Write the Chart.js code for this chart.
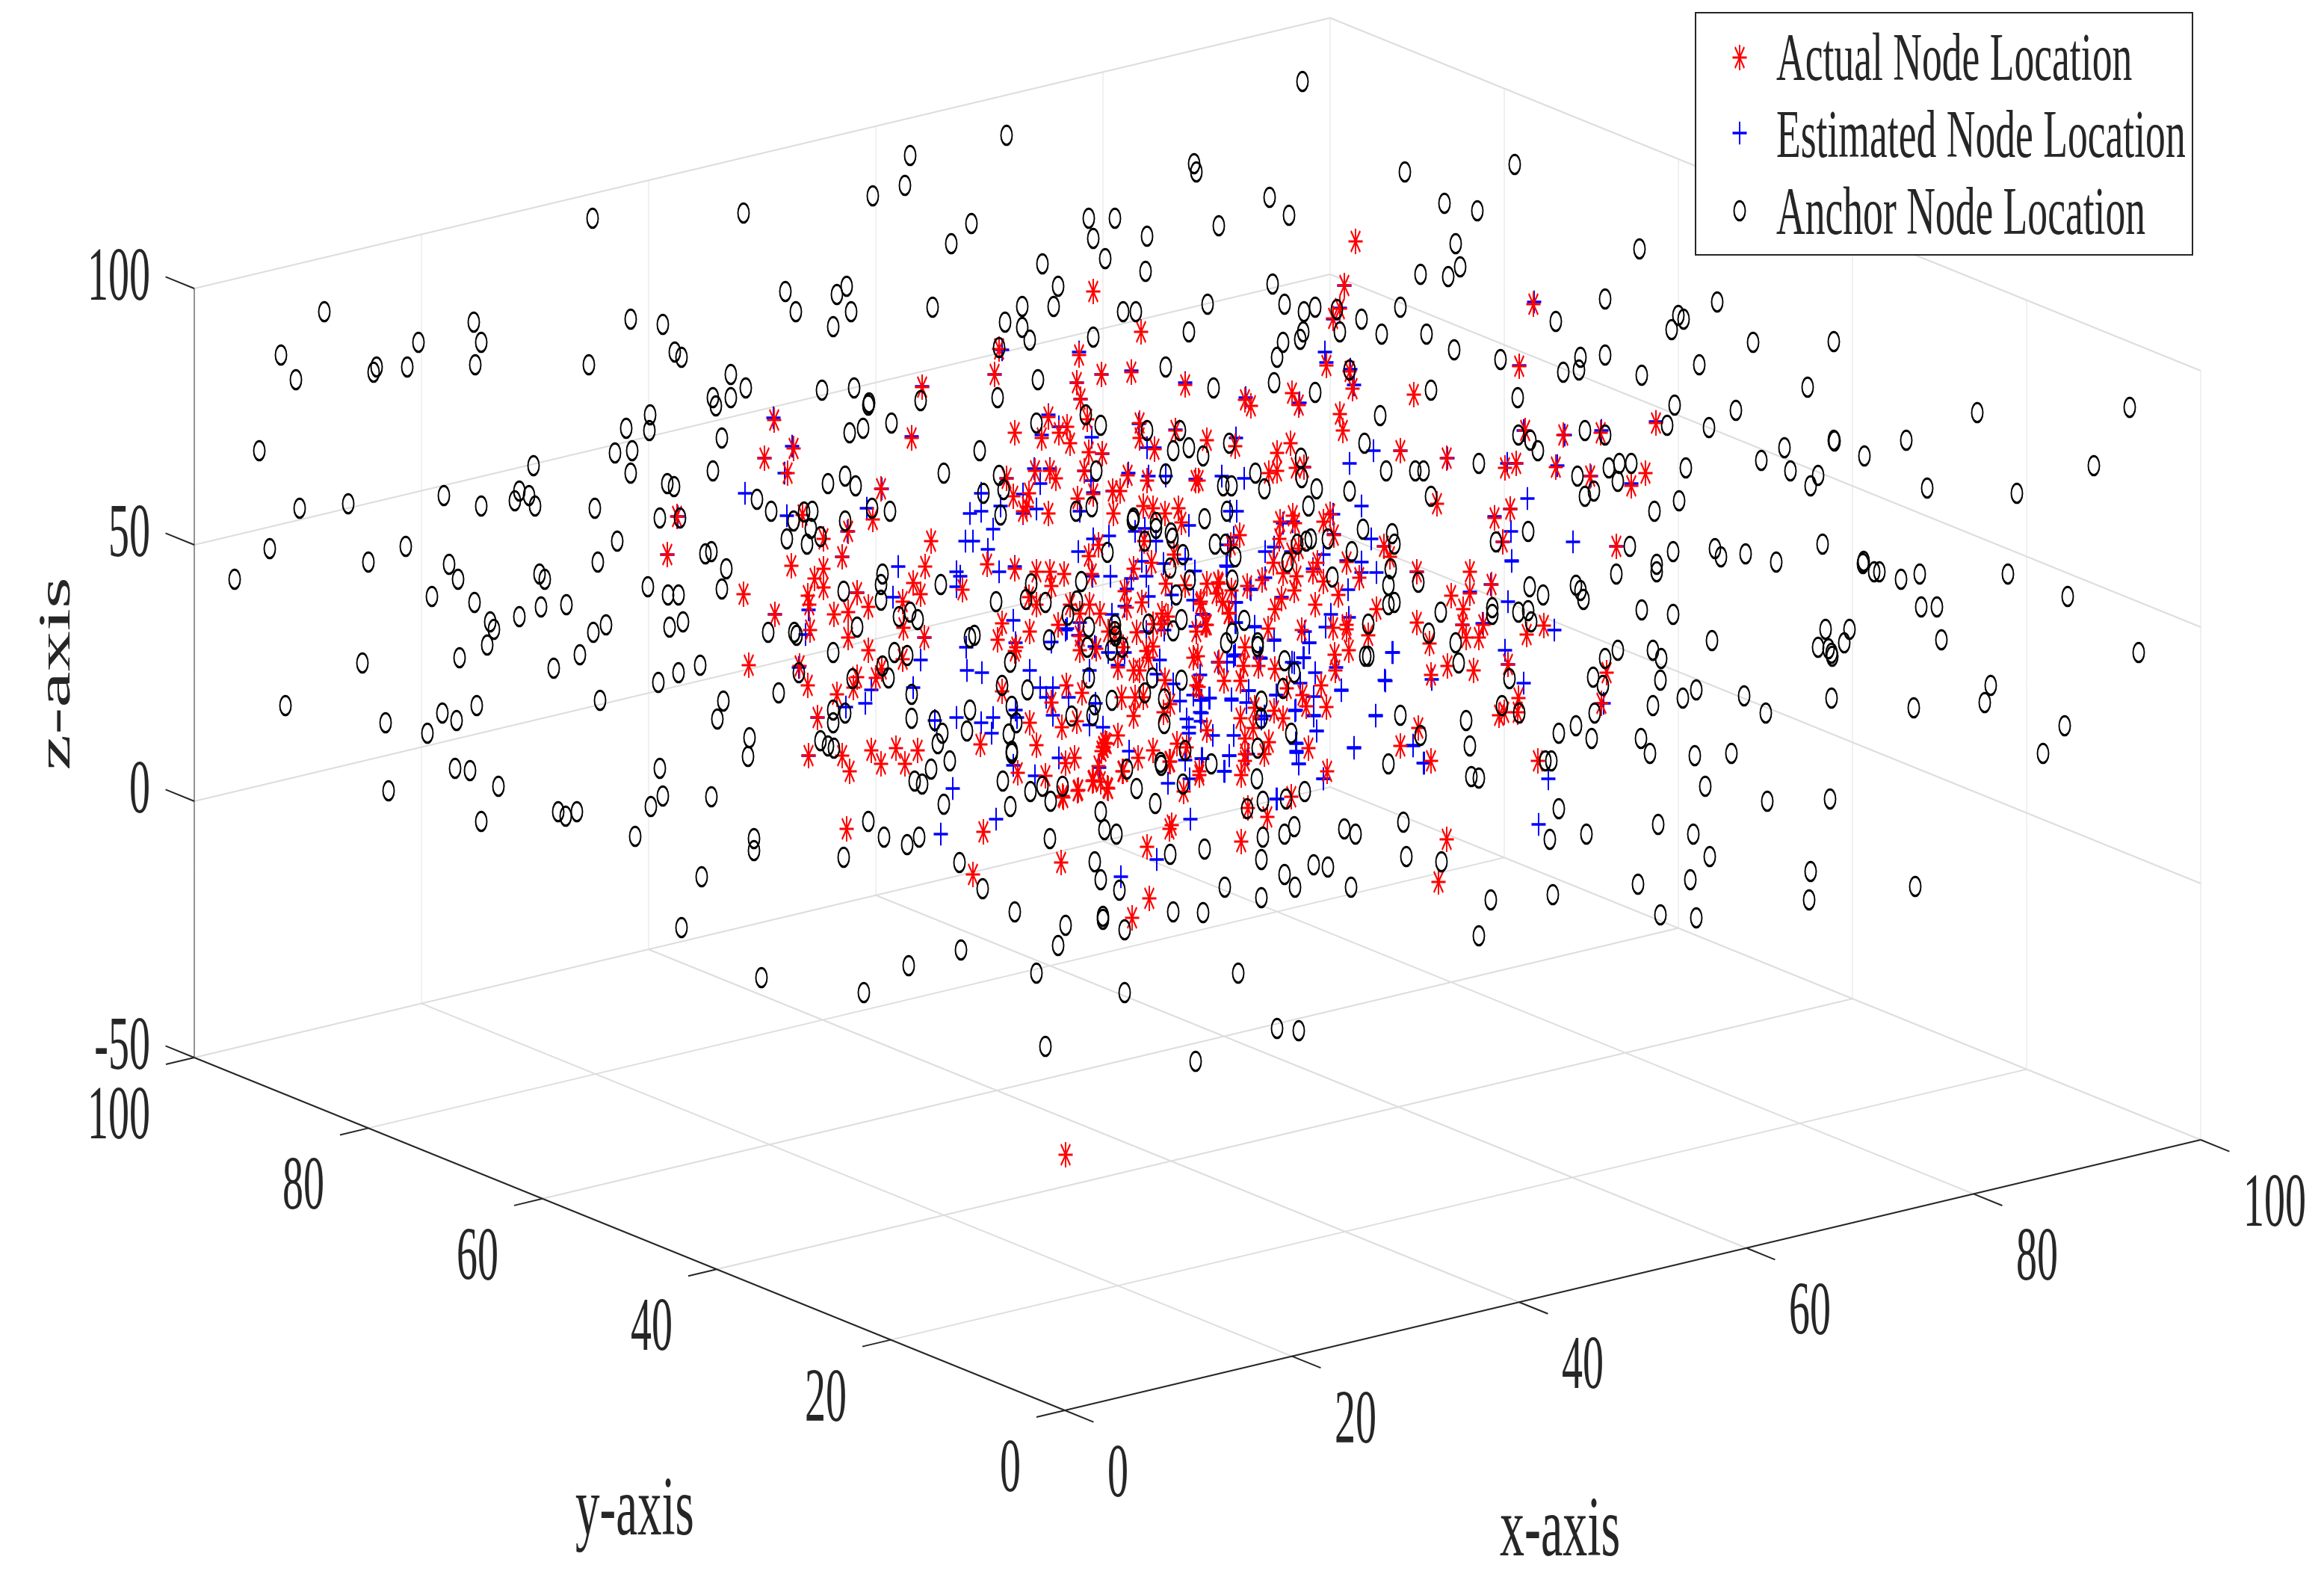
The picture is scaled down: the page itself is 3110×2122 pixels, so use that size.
<!DOCTYPE html>
<html>
<head>
<meta charset="utf-8">
<title>Node localisation scatter</title>
<style>html,body{margin:0;padding:0;background:#fff}canvas{display:block}</style>
<script src="https://cdn.jsdelivr.net/npm/chart.js@4/dist/chart.umd.min.js"></script>
</head>
<body>
<canvas id="c" width="3110" height="2122"></canvas>
<script>
const xTicks=[0,20,40,60,80,100];
const yTicks=[0,20,40,60,80,100];
const zTicks=[-50,0,50,100];
const seriesNames=["Actual Node Location","Estimated Node Location","Anchor Node Location"];
const axisNames={x:"x-axis",y:"y-axis",z:"z-axis"};

const anchorNodes=[
[434,417],[376,475],[396,508],[500,498],[504,491],[560,458],[545,491],[634,431],[644,458],[636,488],[788,488],[347,603],[714,623],[401,680],[466,674],[594,663],[644,677],[689,670],[695,657],[708,663],[716,677],[796,680],[361,734],[493,752],[543,731],[601,755],[613,775],[578,798],[635,806],[722,768],[729,775],[724,812],[758,809],[695,825],[656,832],[661,842],[652,863],[615,880],[485,887],[776,876],[741,894],[794,846],[800,752],[314,775],
[881,913],[382,944],[516,967],[592,954],[611,964],[638,944],[572,981],[803,937],[609,1028],[629,1031],[667,1052],[520,1058],[883,1028],[887,1065],[871,1079],[747,1086],[757,1092],[772,1086],[644,1099],[850,1119],
[1347,181],[1218,208],[1211,248],[1168,262],[995,285],[1300,299],[1273,326],[1457,292],[1492,292],[1463,319],[1479,346],[1535,316],[1533,363],[1395,353],[1416,383],[1598,219],[1601,230],[1410,410],[1368,410],[1345,431],[1368,438],[1378,455],[1248,411],[1503,417],[1520,417],[1591,444],[1463,451],[1051,390],[1065,417],[1120,394],[1133,383],[1139,417],[1115,437],[844,427],[887,434],[903,471],[912,478],[793,292],[978,501],[998,519],[954,532],[958,543],[978,532],[870,555],[869,576],[838,573],[823,606],[846,603],[844,633],[966,586],[954,630],[893,647],[902,651],[1100,522],[1143,519],[1163,539],[1162,542],[1137,579],[1155,573],[1193,566],[1232,536],[1335,532],[1389,508],[1337,465],[1560,491],[1311,603],[1387,566],[1453,555],[1473,569],[1535,576],[1579,576],[1570,603],[1591,599],[1263,633],[1337,636],[1343,655],[1316,660],[1467,630],[1560,634],[1108,647],[1131,637],[1145,650],[1013,668],[1032,684],[1087,684],[1076,685],[1167,680],[1191,684],[1131,697],[1339,689],[1440,684],[1461,678],[1517,693],[1547,699],[883,693],[910,693],
[826,724],[1053,721],[1080,728],[1062,697],[1085,707],[1098,718],[944,741],[952,738],[972,761],[966,788],[867,785],[894,796],[908,796],[896,839],[914,832],[811,836],[1028,846],[1063,846],[1066,850],[1115,873],[1129,791],[1181,768],[1179,782],[1179,803],[1147,839],[1203,825],[1218,819],[1228,829],[1259,782],[1333,805],[937,890],[908,900],[968,938],[1042,927],[960,962],[1069,900],[1197,873],[1214,877],[1181,891],[1189,907],[1141,908],[1298,853],[1304,850],[1003,987],[1001,1012],[952,1066],[1009,1122],[1009,1138],[939,1173],[1115,950],[1115,967],[1131,954],[1098,991],[1108,998],[1116,1001],[1220,961],[1220,929],[1251,964],[1261,981],[1255,995],[1298,950],[1294,978],[1271,1018],[1246,1029],[1224,1045],[1234,1049],[1263,1076],[1162,1099],[1183,1120],[1230,1120],[1214,1130],[1129,1147],[1284,1154],[1315,1189],
[1631,302],[1948,326],[1954,357],[1938,370],[1901,367],[2194,333],[1703,380],[1616,407],[1719,407],[1745,417],[1760,411],[1789,414],[1822,427],[1874,411],[1849,447],[1793,444],[1744,444],[1740,454],[1717,458],[1709,478],[1909,447],[1946,468],[2008,481],[2082,430],[2148,400],[2298,404],[2246,422],[2253,427],[2237,441],[2346,458],[2115,478],[2113,495],[2092,498],[2148,475],[2197,502],[2274,488],[1705,512],[1624,519],[1760,525],[1806,495],[1915,522],[1847,556],[2031,532],[2241,542],[2323,549],[2231,569],[2287,572],[2121,576],[2148,582],[2032,582],[2048,589],[2058,603],[1826,593],[1645,593],[1610,610],[1741,613],[1742,639],[1680,633],[1855,630],[1894,630],[1905,630],[1979,620],[2111,637],[2153,626],[2167,620],[2183,620],[2165,644],[2256,626],[2357,616],[2388,599],[2396,630],[1637,650],[1648,650],[1692,654],[1762,654],[1806,657],[2121,664],[2133,657],[1915,664],[2247,670],[2214,684],[1751,677],[1642,684],[1612,694],[1824,708],[1863,714],[2045,711],[1866,728],[1626,728],[1640,728],[1653,745],[1754,721],[1777,721],[1736,728],[1748,724],[1809,738],[2002,725],[2181,731],[2239,738],[2295,734],[2303,745],[2336,741],[2377,752],[2217,755],[2217,765],[2163,768],[1861,761],[1783,772],[1858,783],[1898,779],[1723,752],[1649,776],[2047,785],[2065,796],[2109,783],[2115,790],[2119,802],[1858,809],[1866,806],[1928,819],[1997,813],[1997,822],[2032,819],[2045,817],[2049,832],[2197,816],[2239,822],[1665,830],[1831,835],[1649,847],[1912,847],[1641,860],[1683,860],[1683,865],[1948,860],[2291,857],[2165,870],[2148,881],[2212,870],[2223,881],[1827,878],[1831,878],[1719,884],[1952,887],[1732,900],
[2222,910],[2132,906],[2145,917],[2020,908],[1717,921],[1688,938],[1688,961],[1728,981],[1874,957],[1962,964],[2010,944],[2033,954],[2212,944],[2252,934],[2270,923],[2334,931],[2363,954],[2134,954],[2086,981],[2109,971],[2130,988],[2196,988],[2208,1008],[2268,1011],[2317,1008],[1901,984],[1967,998],[1683,1001],[1621,1022],[1858,1022],[2068,1018],[2076,1018],[1969,1039],[1979,1041],[2282,1052],[1682,1042],[1746,1059],[1690,1072],[1721,1069],[1669,1082],[2086,1082],[2365,1072],[1878,1100],[2219,1103],[2123,1116],[2266,1116],[1799,1109],[1814,1116],[1732,1106],[1719,1116],[1690,1120],[1612,1136],[2074,1123],[1882,1146],[1929,1153],[2288,1146],[1688,1150],[1758,1157],[1777,1160],[1719,1170],[1733,1187],[1808,1187],[1639,1187],[1688,1201],[1995,1204],[2078,1197],[2192,1183],[2262,1177],[1610,1221],[2222,1224],[2270,1228],[1979,1252],[1657,1302],[1709,1376],[1738,1379],
[1342,1045],[1379,1059],[1395,1052],[1422,1052],[1352,1079],[1406,1072],[1473,1086],[1478,1110],[1494,1116],[1405,1122],[1521,1055],[1546,1075],[1583,1049],[1508,1029],[1354,1008],[1566,1143],[1465,1153],[1473,1177],[1498,1191],[1358,1220],[1426,1238],[1476,1226],[1476,1230],[1505,1244],[1570,1220],[1416,1265],[1286,1271],[1216,1292],[1019,1308],[1156,1328],[1387,1302],[1505,1328],[1399,1400],[1600,1420],[912,1241],
[1516,696],[1547,707],[1567,713],[1569,720],[1532,724],[1583,742],[1482,739],[1566,760],[1592,776],[1380,781],[1447,778],[1373,802],[1399,806],[1441,804],[1429,823],[1574,796],[1581,829],[1570,844],[1537,835],[1457,839],[1492,836],[1404,856],[1455,866],[1492,845],[1493,851],[1487,870],[1502,866],[1352,886],[1341,917],[1375,923],[1457,907],[1354,945],[1360,967],[1350,982],[1354,1005],[1542,907],[1581,910],[1532,927],[1488,937],[1558,935],[1465,943],[1434,958],[1462,957],[1558,968],[1553,1020],[1554,1024],[1586,1004],
[1743,109],[2027,220],[1880,230],[1933,272],[1977,282],[1699,264],[1725,288],
[2454,457],[2419,518],[2646,552],[2850,545],[2551,589],[2454,589],[2455,590],[2495,610],[2433,636],[2423,650],[2579,653],[2699,660],[2802,623],[2439,728],[2494,751],[2493,754],[2508,765],[2515,765],[2544,775],[2569,768],[2687,768],[2767,798],[2571,812],[2592,812],[2598,856],[2443,842],[2475,842],[2468,860],[2433,866],[2447,868],[2451,874],[2452,878],[2862,873],[2664,917],[2656,940],[2451,934],[2561,947],[2763,971],[2734,1008],[2449,1069],[2423,1166],[2421,1204],[2563,1186]
];

const actualNodes=[
[1463,390],[1527,444],[1444,475],[1337,467],[1331,501],[1441,512],[1474,501],[1514,498],[1586,515],[1234,518],[1036,562],[1062,600],[1023,613],[1054,633],[1220,586],[1179,654],[1446,534],[1403,558],[1358,579],[1394,586],[1417,579],[1428,571],[1432,593],[1457,605],[1475,607],[1455,561],[1525,566],[1525,586],[1545,601],[1573,576],[1385,630],[1405,630],[1413,640],[1451,630],[1509,636],[1535,643],[1600,643],[1356,664],[1377,660],[1374,678],[1369,684],[1403,687],[1442,667],[1463,661],[1489,657],[1499,657],[1530,677],[1543,680],[1559,687],[1577,680],[1490,687],[1347,640],[906,691],[1074,689],[1168,695],
[1102,721],[1135,711],[1246,724],[1238,758],[893,742],[1127,745],[1059,757],[1102,761],[1090,774],[1102,786],[995,795],[1081,797],[1083,809],[1147,793],[1162,812],[1116,822],[1135,819],[1222,780],[1232,795],[1208,805],[1288,789],[1321,755],[1358,761],[1387,765],[1405,765],[1424,768],[1407,784],[1377,799],[1387,809],[1037,822],[1084,843],[1209,840],[1237,853],[1135,853],[1162,870],[1002,890],[1070,891],[1081,917],[1208,882],[1180,895],[1172,907],[1147,906],[1142,920],[1120,929],[1341,834],[1335,856],[1378,845],[1360,866],[1341,925],[1378,967],[1094,960],[1082,1011],[1127,1011],[1137,1032],[1166,1004],[1179,1022],[1199,1001],[1211,1022],[1228,1004],[1312,996],[1387,997],[1362,1034],[1399,1038],[1426,1021],[1438,1014],[1422,1065],[1442,1058],[1483,1055],[1463,1044],[1473,1046],[1477,1000],[1479,994],[1470,1025],[1503,1032],[1523,1014],[1565,1019],[1133,1109],[1316,1113],[1302,1170],[1420,1154],[1535,1133],[1565,1109],[1568,1104],[1538,1202],[1515,1228],[1426,1545],
[1581,699],[1470,729],[1457,744],[1531,724],[1541,753],[1571,742],[1461,768],[1517,761],[1560,781],[1586,783],[1432,809],[1458,809],[1472,821],[1505,791],[1508,813],[1528,806],[1555,821],[1554,835],[1563,825],[1543,835],[1606,808],[1615,781],[1630,779],[1644,821],[1615,836],[1601,845],[1416,836],[1445,821],[1445,851],[1483,845],[1521,846],[1358,871],[1445,870],[1467,868],[1492,848],[1503,866],[1534,871],[1543,865],[1537,880],[1597,880],[1496,893],[1517,897],[1525,897],[1559,910],[1601,917],[1427,917],[1448,927],[1407,940],[1501,933],[1519,933],[1530,933],[1517,958],[1566,942],[1557,953],[1421,973],[1441,965],[1476,999],[1481,995],[1474,1005],[1496,984],[1543,1004],[1575,995],[1588,1000],[1566,1019],[1502,1032],[1443,1057],[1462,1045],[1482,1054],[1423,1067],[1605,1032],[1584,1059],
[1814,323],[1799,382],[1793,413],[1784,426],[2052,407],[1775,489],[2033,490],[1806,497],[1810,520],[1666,535],[1674,543],[1729,526],[1738,542],[1892,528],[1793,554],[1797,576],[2216,566],[2041,576],[2092,582],[2142,579],[1615,589],[1653,597],[1727,593],[1874,603],[1709,606],[1936,613],[2014,626],[2029,620],[2082,625],[2128,637],[2183,650],[2202,633],[1604,643],[1698,633],[1709,630],[1734,626],[1745,625],[1923,674],[2000,693],[2021,681],[1713,698],[1730,690],[1733,700],[1771,698],[1780,688],[1659,716],[1785,716],[1712,721],[2011,725],[2163,731],[1852,731],[1860,745],[1802,752],[1896,765],[1967,765],[1647,729],[1738,734],[1728,740],[1704,753],[1717,767],[1735,771],[1757,765],[1763,753],[1771,778],[1689,776],[1669,784],[1819,773],[1631,781],[1628,794],[1648,790],[1996,782],[1732,790],[1715,801],[1791,796],[1942,797],[1967,794],[1842,815],[1760,809],[1706,815],[1607,805],[1636,805],[1645,820],[1958,815],[1985,836],[1613,836],[1697,841],[2066,837],[1896,833],[1784,840],[1802,842],[1802,836],[1742,843],[1831,850],[1957,836],[1962,853],[1979,853],[2043,849],[1913,861],[1805,870],[1666,866],[1603,878],[1786,876],[1631,886],[1664,891],[1684,891],[2150,900],[1937,891],[2018,889],[1706,895],[1972,897],[1915,903],[1787,897],
[2143,941],[2032,934],[2006,957],[2031,953],[2013,953],[1898,974],[1874,998],[1915,1018],[2058,1018],[1751,1001],[1776,1032],[1638,911],[1660,911],[1743,930],[1722,921],[1768,917],[1748,945],[1775,946],[1717,961],[1705,951],[1679,947],[1660,961],[1677,974],[1666,988],[1698,993],[1692,1009],[1666,1009],[1666,1018],[1661,1037],[1615,977],[1605,1037],[1604,919],[1670,1081],[1728,1066],[1696,1093],[1661,1126],[1936,1123],[1925,1180]
];

const estimatedNodes=[
[1341,468],[1331,501],[1444,471],[1441,512],[1474,501],[1514,496],[1586,512],[1234,517],[1035,559],[1060,597],[1023,613],[1050,633],[1220,584],[1180,654],[1446,534],[1403,555],[1394,582],[1417,571],[1461,585],[1524,567],[1573,575],[1535,599],[1545,599],[1475,607],[1384,627],[1405,627],[1451,630],[1460,643],[1510,633],[1537,637],[1560,637],[1600,641],[1347,640],[1392,647],[1313,660],[1369,661],[1339,677],[1387,681],[1369,687],[1298,687],[1313,684],[1445,684],[997,660],[1053,690],[1160,680],[907,691],[1489,657],[1463,659],
[1134,711],[1127,745],[893,742],[1292,724],[1302,724],[1329,708],[1322,735],[1202,758],[1280,765],[1285,771],[1280,785],[1195,799],[1147,793],[1082,816],[1037,822],[1078,849],[1237,853],[1232,883],[1293,866],[1337,765],[1356,830],[1358,758],[1443,738],[1463,721],[1484,717],[1486,771],[1519,711],[1547,724],[1591,703],[1428,841],[1407,859],[1359,860],[1294,897],[1314,900],[1378,897],[1069,893],[1222,920],[1166,923],[1158,941],[1132,946],[1094,960],[1251,964],[1280,960],[1313,967],[1329,960],[1327,981],[1359,950],[1361,960],[1392,920],[1409,920],[1400,933],[1430,933],[1409,957],[1458,970],[1466,941],[1476,973],[1082,1011],[1275,1055],[1356,1024],[1385,1038],[1417,1014],[1333,1096],[1259,1116],[1500,1173],[1548,1150],[1593,1096],[1511,1005],[1471,1027],[1563,1048],[1586,1017],[1588,962],[1591,973],[1591,981],
[1532,707],[1528,751],[1557,754],[1586,748],[1534,771],[1514,774],[1599,764],[1642,758],[1462,771],[1537,798],[1508,788],[1505,811],[1568,796],[1597,803],[1673,788],[1653,806],[1610,822],[1653,833],[1600,838],[1679,838],[1488,822],[1445,833],[1426,843],[1534,845],[1558,843],[1443,850],[1465,865],[1483,873],[1505,873],[1705,856],[1746,845],[1752,860],[1458,897],[1552,883],[1642,886],[1630,886],[1653,876],[1686,880],[1729,886],[1744,880],[1606,903],[1548,902],[1496,890],[1570,915],[1579,938],[1597,930],[1619,934],[1608,937],[1606,953],[1607,965],[1648,937],[1671,924],[1668,940],[1708,930],[1733,951],[1758,957],[1688,962],[1762,978],[1735,995],[1735,1005],[1738,1022],[1812,1000],[1841,957],[1854,911],[1863,873],[1795,923],[1891,997],[1905,1021],[1771,1042],[1639,1032],[1608,1015],[1645,1011],[1592,1042],[1708,1069],
[1799,382],[1793,412],[1784,427],[2053,404],[1773,471],[1775,485],[1807,494],[1812,515],[2033,489],[1667,532],[1739,539],[2216,564],[2039,576],[2094,582],[2143,576],[1654,586],[1838,603],[1806,620],[1874,603],[1937,613],[2017,620],[2029,620],[2084,623],[2129,637],[2183,647],[1635,637],[1665,640],[1745,625],[1822,677],[2000,691],[2021,681],[2044,667],[2105,725],[2022,711],[2011,725],[1646,684],[1655,684],[1835,721],[1852,731],[2023,750],[2023,751],[2163,731],[1730,698],[1784,688],[1785,715],[1717,700],[1651,719],[1643,729],[1771,742],[1693,738],[1705,732],[1728,738],[1802,750],[1822,752],[1822,766],[1842,766],[1896,765],[1967,792],[1995,782],[1804,789],[1674,789],[1715,799],[1693,773],[1757,761],[1641,757],[2018,805],[1654,806],[1781,822],[1805,826],[1774,839],[1610,822],[1654,833],[1679,839],[1957,836],[1984,834],[2080,843],[1705,857],[1752,860],[1864,873],[2014,870],[1651,878],[1631,886],[1745,880],[1732,887],[1687,881],[1788,893],[1760,900],[2018,889],
[1853,910],[1916,909],[2039,914],[1795,924],[1740,914],[1671,924],[1618,934],[1648,935],[1606,937],[1708,930],[1758,932],[1734,950],[1758,958],[1841,958],[1692,958],[1608,954],[1762,978],[1651,984],[1623,984],[1734,994],[1735,1007],[1812,1001],[1891,998],[1906,1021],[1645,1011],[1609,1015],[1738,1022],[1638,1032],[1771,1042],[2072,1042],[1709,1069],[2059,1103],[2146,941],[1670,1009]
];

/* Affine view of the 3-D box (orthographic view of the original plot) */
function project(x,y,z){return {x:1425+15.2*x-11.65*y,y:1887-3.62*x-4.72*y-6.86*(z+50)};}
const SY=1.7;
function markerCanvas(draw){
  const c=document.createElement('canvas');c.width=44;c.height=72;
  const g=c.getContext('2d');g.translate(22,36);g.save();g.scale(1,SY);g.lineCap='butt';draw(g);g.restore();return c;
}
const starMark=markerCanvas(g=>{g.strokeStyle='#ff0000';g.lineWidth=1.9;g.beginPath();
  g.moveTo(-9.5,0);g.lineTo(9.5,0);g.moveTo(0,-10);g.lineTo(0,10);g.moveTo(-6.2,-8.2);g.lineTo(6.2,8.2);g.moveTo(-6.2,8.2);g.lineTo(6.2,-8.2);g.stroke();});
const plusMark=markerCanvas(g=>{g.strokeStyle='#0000ff';g.lineWidth=2;g.beginPath();
  g.moveTo(-9.5,0);g.lineTo(9.5,0);g.moveTo(0,-9);g.lineTo(0,9);g.stroke();});
const ringMark=markerCanvas(g=>{g.strokeStyle='#000000';g.lineWidth=1.9;g.beginPath();g.arc(0,0,7.5,0,Math.PI*2);g.stroke();});

function segs(list){const out=[];list.forEach(s=>{const a=project(...s[0]),b=project(...s[1]);out.push(a,b,{x:NaN,y:NaN});});return out;}
const gridMajor=[],gridThin=[],axisLines=[],tickLines=[];
const inner=[20,40,60,80,100];
xTicks.forEach(x=>{if(x)gridMajor.push([[x,0,-50],[x,100,-50]]);});
yTicks.forEach(y=>{if(y)gridMajor.push([[0,y,-50],[100,y,-50]]);});
[0,50,100].forEach(z=>{gridMajor.push([[0,100,z],[100,100,z]]);gridMajor.push([[100,100,z],[100,0,z]]);});
inner.forEach(x=>gridThin.push([[x,100,-50],[x,100,100]]));
[0,20,40,60,80].forEach(y=>gridThin.push([[100,y,-50],[100,y,100]]));
axisLines.push([[0,0,-50],[100,0,-50]],[[0,0,-50],[0,100,-50]]);
xTicks.forEach(x=>tickLines.push([[x,0,-50],[x,-3.3,-50]]));
yTicks.forEach(y=>tickLines.push([[0,y,-50],[-2.5,y,-50]]));
zTicks.forEach(z=>tickLines.push([[0,100,z],[0,103.3,z]]));
const zLine=[[[0,100,-50],[0,100,100]]];

const pts=a=>a.map(p=>({x:p[0],y:p[1]}));
const lineDs=(d,color,w,order)=>({type:'scatter',data:segs(d),showLine:true,borderColor:color,borderWidth:w,pointRadius:0,order,spanGaps:false,label:'',borderCapStyle:'butt'});
const pointDs=(label,d,img,order)=>({label,data:pts(d),showLine:false,pointStyle:img,pointRadius:14,pointHoverRadius:14,order});

function label(ctx,text,x,y,align,size,sy,rot){
  ctx.save();ctx.translate(x,y);ctx.scale(1,sy);if(rot)ctx.rotate(rot);
  ctx.font=size+'px "Liberation Serif"';ctx.textAlign=align;ctx.textBaseline='alphabetic';ctx.fillStyle='#262626';
  ctx.fillText(text,0,0);ctx.restore();
}
const overlay={id:'overlay',afterDraw(ch){
  const ctx=ch.ctx,sx=ch.scales.x,sy=ch.scales.y;
  const px=p=>({x:sx.getPixelForValue(p.x),y:sy.getPixelForValue(p.y)});
  const F=56,TS=1.8;
  xTicks.forEach(t=>{const p=px(project(t,0,-50));label(ctx,String(t),p.x+57,p.y+115,'left',F,TS);});
  yTicks.forEach(t=>{const p=px(project(0,t,-50));label(ctx,String(t),p.x-59,p.y+108,'right',F,TS);});
  zTicks.forEach(t=>{const p=px(project(0,100,t));label(ctx,String(t),p.x-59,p.y+15,'right',F,TS);});
  label(ctx,axisNames.z,93,1031,'left',62,1.75,-Math.PI/2);
  label(ctx,axisNames.y,770,2053,'left',65,1.72);
  label(ctx,axisNames.x,2007,2081,'left',66,1.72);
  /* legend */
  ctx.save();ctx.fillStyle='#fff';ctx.strokeStyle='#262626';ctx.lineWidth=2;
  ctx.fillRect(2269,17,665,324);ctx.strokeRect(2269,17,665,324);ctx.restore();
  [starMark,plusMark,ringMark].forEach((m,i)=>{
    const cy=[77,178,282][i];ctx.drawImage(m,2328-22,cy-36);
    label(ctx,seriesNames[i],2377,[107,210,313][i],'left',53.6,1.69);
  });
}};
new Chart(document.getElementById('c'),{
  type:'scatter',
  data:{datasets:[
    pointDs(seriesNames[0],actualNodes,starMark,2),
    pointDs(seriesNames[1],estimatedNodes,plusMark,3),
    pointDs(seriesNames[2],anchorNodes,ringMark,1),
    lineDs(tickLines,'#262626',2,5),
    lineDs(axisLines,'#262626',2,5),
    lineDs(zLine,'#262626',1,5),
    lineDs(gridMajor,'#dddddd',2,7),
    lineDs(gridThin,'#e2e2e2',1,8)
  ]},
  options:{
    responsive:false,animation:false,devicePixelRatio:1,
    layout:{padding:0,autoPadding:false},
    events:[],
    plugins:{legend:{display:false},tooltip:{enabled:false},title:{display:false}},
    scales:{
      x:{type:'linear',display:false,min:0,max:3110},
      y:{type:'linear',display:false,min:0,max:2122,reverse:true}
    }
  },
  plugins:[overlay]
});
</script>
</body>
</html>
